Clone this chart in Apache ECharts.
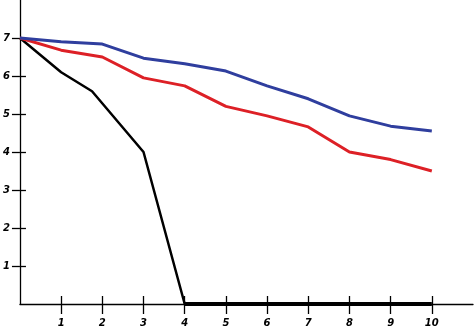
<!DOCTYPE html>
<html><head><meta charset="utf-8">
<script src="https://cdn.jsdelivr.net/npm/echarts@6/dist/echarts.min.js"></script>
<style>html,body{margin:0;padding:0;background:#fff}#c{width:474px;height:330px}</style>
</head><body><div id="c"></div>
<script>
var xTicks = [1,2,3,4,5,6,7,8,9,10];
var yTicks = [1,2,3,4,5,6,7];
var blueX = [0,1,2,3,4,5,6,7,8,9,10];
var blueY = [7,6.9,6.84,6.47,6.32,6.13,5.74,5.4,4.95,4.68,4.55];
var redX = [0,1,2,3,4,5,6,7,8,9,10];
var redY = [7,6.68,6.5,5.95,5.74,5.2,4.95,4.66,4.0,3.8,3.5];
var blackDropX = [0,1,1.75,3,4];
var blackDropY = [7,6.1,5.6,4.0,0];
var blackFloorX = [4,10];
var blackFloorY = [0,0];

function pairs(xs, ys){ return xs.map(function(x,i){return [x, ys[i]];}); }
var font = {fontFamily:'DejaVu Sans', fontWeight:'bold', fontStyle:'italic', fontSize:10, color:'#000'};
var chart = echarts.init(document.getElementById('c'));
chart.setOption({
  animation:false,
  grid:{left:18,right:1,top:0,bottom:26},
  xAxis:[
    {type:'value',min:0,max:11,interval:1,position:'bottom',
     axisLine:{lineStyle:{color:'#000',width:1.3}},
     axisTick:{customValues:xTicks,length:10,inside:false,lineStyle:{color:'#000',width:1.3}},
     axisLabel:Object.assign({customValues:xTicks,margin:14},font),
     splitLine:{show:false}},
    {type:'value',min:0,max:11,interval:1,position:'bottom',
     axisLine:{show:false},
     axisTick:{customValues:xTicks,length:8,inside:true,lineStyle:{color:'#000',width:1.3}},
     axisLabel:{show:false},splitLine:{show:false}}
  ],
  yAxis:[
    {type:'value',min:0,max:8,interval:1,position:'left',
     axisLine:{show:true,lineStyle:{color:'#000',width:1.3}},
     axisTick:{show:true,customValues:yTicks,length:8,inside:false,lineStyle:{color:'#000',width:1.3}},
     axisLabel:Object.assign({customValues:yTicks,margin:10},font),
     splitLine:{show:false}},
    {type:'value',min:0,max:8,interval:1,position:'left',
     axisLine:{show:false},
     axisTick:{show:true,customValues:yTicks,length:6,inside:true,lineStyle:{color:'#000',width:1.3}},
     axisLabel:{show:false},splitLine:{show:false}}
  ],
  series:[
    {type:'line',data:pairs(blackDropX,blackDropY),symbol:'none',lineStyle:{color:'#000',width:2.5},z:3},
    {type:'line',data:pairs(blackFloorX,blackFloorY),symbol:'none',lineStyle:{color:'#000',width:4},z:3},
    {type:'line',data:pairs(redX,redY),symbol:'none',lineStyle:{color:'#dd2026',width:3},z:4},
    {type:'line',data:pairs(blueX,blueY),symbol:'none',lineStyle:{color:'#2f3e9e',width:3},z:5}
  ]
});
</script></body></html>
